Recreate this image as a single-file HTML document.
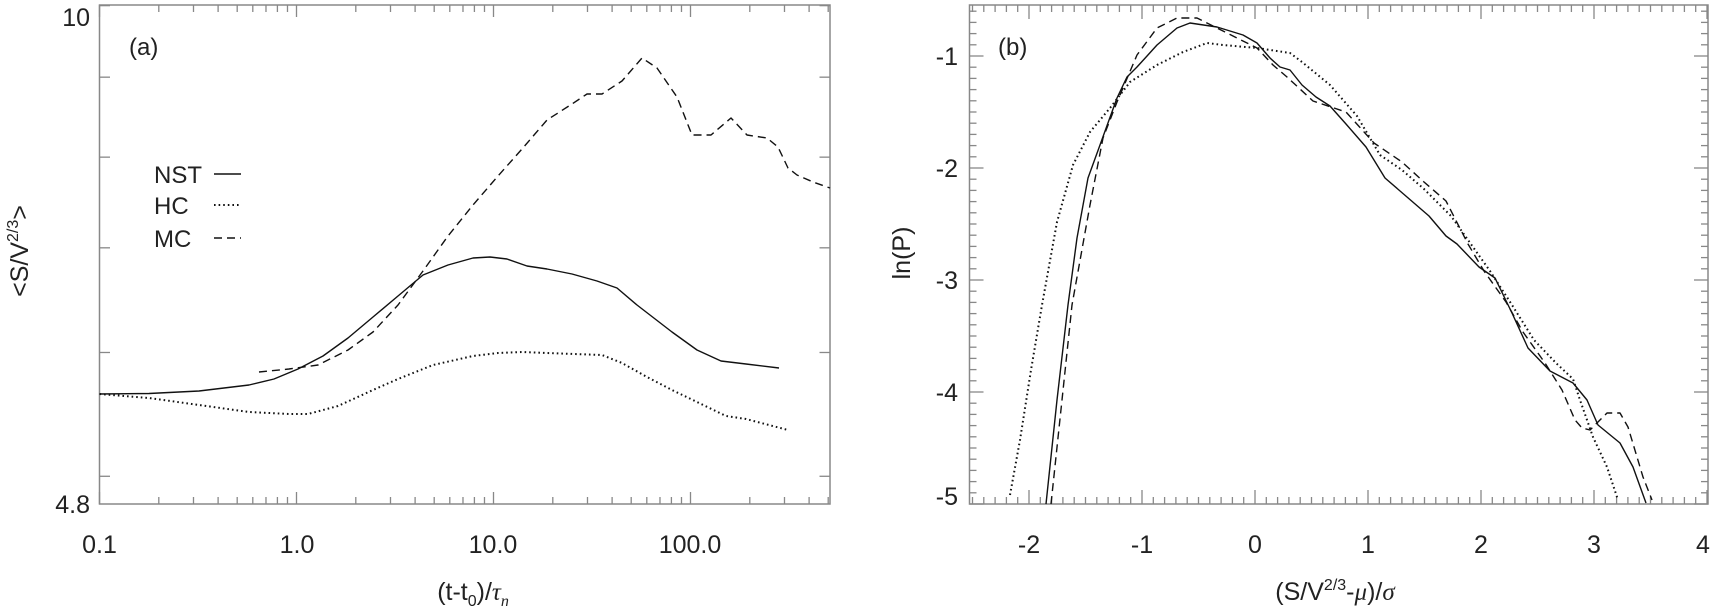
<!DOCTYPE html>
<html><head><meta charset="utf-8"><style>
body{margin:0;background:#fff}
svg{display:block}
text{font-family:"Liberation Sans",Arial,sans-serif;fill:#222}
.c{fill:none;stroke:#111;stroke-width:1.4;stroke-linejoin:round}
</style></head><body>
<svg id="s" width="1715" height="606" viewBox="0 0 1715 606" xmlns="http://www.w3.org/2000/svg">
<g id="ax" stroke="#888" stroke-width="1.5" fill="none">
<rect x="99.5" y="5" width="730.5" height="499"/>
<rect x="969.5" y="5" width="738.5" height="499"/>
</g>
<g id="tk" stroke="#888" stroke-width="1.3"></g>
<!-- Left panel curves -->
<polyline class="c" points="99.5,394 149,393.5 199,391 249,385 274,379 298,369 323,356 348,338 373,317 398,296 423,275 448,265 473,258 490,257 507,259 527,266 547,269 572,274 597,281 617,288 637,305 672,332 697,350 721,361 746,364 779,368"/>
<polyline class="c" style="stroke-dasharray:1.6 3;stroke-width:2" points="99.5,394 149,398 199,405 249,412 289,414 308,414 338,406 373,390 398,379 433,365 473,356 498,353 522,352 547,353 602,355 622,363 647,377 672,390 697,402 726,416 746,419 788,430"/>
<polyline class="c" style="stroke-dasharray:8 5" points="259,372 289,369 318,365 348,350 373,332 398,305 423,271 448,236 473,205 498,176 522,149 547,120 572,104 587,94 602,94 622,81 642,58 657,68 677,97 692,135 711,135 731,118 747,135 767,138 778,147 788,168 797,175 813,182 830,188"/>
<!-- legend -->
<text x="154" y="183" font-size="24">NST</text>
<line x1="214" y1="174" x2="241" y2="174" stroke="#111" stroke-width="1.4"/>
<text x="154" y="214" font-size="24">HC</text>
<line x1="214" y1="205" x2="241" y2="205" stroke="#111" stroke-width="2" stroke-dasharray="1.6 3"/>
<text x="154" y="247" font-size="24">MC</text>
<line x1="214" y1="238" x2="241" y2="238" stroke="#111" stroke-width="1.4" stroke-dasharray="8 5"/>
<text x="129" y="55" font-size="24">(a)</text>
<!-- left labels -->
<text x="90" y="26" font-size="25" text-anchor="end">10</text>
<text x="90" y="513" font-size="25" text-anchor="end">4.8</text>
<g font-size="25" text-anchor="middle">
<text x="99.5" y="553">0.1</text><text x="297" y="553">1.0</text><text x="493" y="553">10.0</text><text x="690" y="553">100.0</text>
</g>
<text transform="translate(28,251) rotate(-90)" font-size="25" text-anchor="middle">&lt;S/V<tspan font-size="16" dy="-10">2/3</tspan><tspan dy="10">&gt;</tspan></text>
<text x="473" y="600" font-size="25" text-anchor="middle">(t-t<tspan font-size="16" dy="6">0</tspan><tspan dy="-6">)/</tspan><tspan font-family="Liberation Serif" font-style="italic">τ</tspan><tspan font-size="16" dy="6" font-family="Liberation Serif" font-style="italic">η</tspan></text>
<!-- Right panel curves -->
<polyline class="c" points="1046,504 1057,400 1068,305 1077,238 1088,178 1100,145 1117,98 1127,77 1137,67 1157,45 1177,28 1190,23 1217,27 1243,35 1257,43 1270,58 1280,67 1290,70 1302,85 1316,97 1330,106 1346,124 1366,147 1385,178 1407,197 1429,216 1446,236 1457,244 1479,267 1495,278 1512,313 1528,348 1550,371 1573,383 1587,400 1598,425 1620,443 1633,467 1646,503"/>
<polyline class="c" style="stroke-dasharray:8 5" points="1051,504 1062,400 1072,305 1090,205 1103,138 1117,102 1137,55 1157,28 1177,18 1197,18 1217,28 1237,38 1257,48 1273,65 1287,77 1313,101 1346,112 1374,143 1402,162 1424,182 1446,201 1468,244 1484,271 1506,302 1523,332 1545,363 1562,390 1575,420 1582,428 1590,430 1607,413 1620,413 1628,427 1643,477 1652,500"/>
<polyline class="c" style="stroke-dasharray:1.6 3;stroke-width:2" points="1010,495 1020,440 1031,370 1042,305 1057,222 1073,165 1090,132 1110,108 1130,82 1157,65 1183,52 1207,43 1223,45 1257,48 1290,53 1302,62 1330,85 1357,116 1380,155 1402,170 1424,189 1451,216 1473,247 1490,271 1512,305 1534,340 1556,363 1573,379 1580,400 1593,437 1607,467 1618,500"/>
<text x="998" y="55" font-size="24">(b)</text>
<g font-size="25" text-anchor="end">
<text x="958" y="65">-1</text><text x="958" y="177">-2</text><text x="958" y="289">-3</text><text x="958" y="401">-4</text><text x="958" y="505">-5</text>
</g>
<g font-size="25" text-anchor="middle">
<text x="1029" y="553">-2</text><text x="1142" y="553">-1</text><text x="1255" y="553">0</text><text x="1368" y="553">1</text><text x="1481" y="553">2</text><text x="1594" y="553">3</text><text x="1703" y="553">4</text>
</g>
<text transform="translate(910,253) rotate(-90)" font-size="25" text-anchor="middle">ln(P)</text>
<text x="1335" y="600" font-size="25" text-anchor="middle">(S/V<tspan font-size="16" dy="-10">2/3</tspan><tspan dy="10">-</tspan><tspan font-family="Liberation Serif" font-style="italic">μ</tspan>)/<tspan font-family="Liberation Serif" font-style="italic">σ</tspan></text>
</svg>
<script>
var g=document.getElementById('tk'),h='';
function L(a,b,c,d){h+='<line x1="'+a+'" y1="'+b+'" x2="'+c+'" y2="'+d+'"/>';}
for(var e=-1;e<3;e++)for(var m=1;m<10;m++){var v=m*Math.pow(10,e);if(v>500)break;var x=99.5+197*(Math.log10(v)+1);if(x>830)break;var len=m==1?12:7;L(x,504,x,504-len);L(x,5,x,5+len);}
[5,6,7,8,9,10].forEach(function(v){var y=504-679*Math.log(v/4.8);L(99.5,y,110,y);L(830,y,819.5,y);});
for(var i=-25;i<=40;i++){var x=1255+11.3*i;var len=(i%10==0)?14:7;L(x,504,x,504-len);L(x,5,x,5+len);}
for(var i=-50;i<=-5;i++){var y=504-11.2*(i+50);if(y<5)break;var len=(i%10==0)?14:7;L(969.5,y,969.5+len,y);L(1708,y,1708-len,y);}
g.innerHTML=h;
</script>
</body></html>
